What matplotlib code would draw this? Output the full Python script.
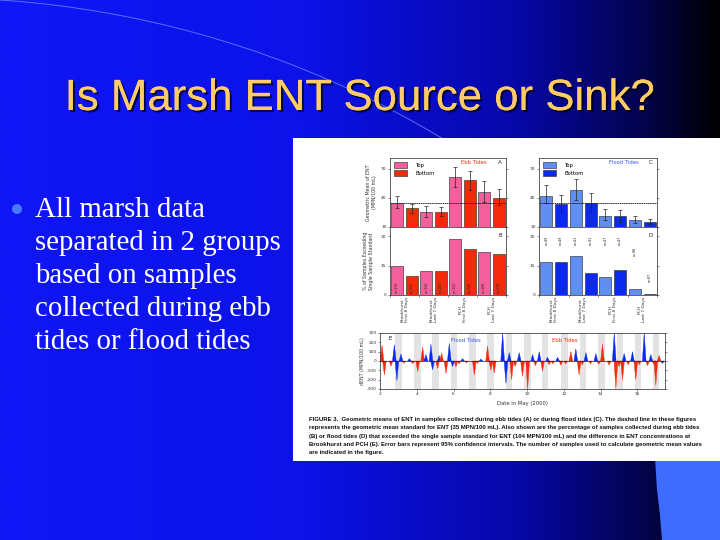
import matplotlib
matplotlib.use("Agg")
import matplotlib.pyplot as plt
import numpy as np
from matplotlib.colors import LinearSegmentedColormap
from matplotlib.patches import Rectangle, Circle, Polygon
import matplotlib.patheffects as pe

plt.rcParams["axes.unicode_minus"] = False

# ---- slide text ----
title = "Is Marsh ENT Source or Sink?"
bullet_lines = ["All marsh data", "separated in 2 groups", "based on samples",
                "collected during ebb", "tides or flood tides"]

# ---- panel A-D data ----
groups = ["Brookhurst\nFirst 8 Days", "Brookhurst\nLast 7 Days",
          "PCH\nFirst 8 Days", "PCH\nLast 7 Days"]

ebb_top_mean = [35, 25.9, 61.5, 46.5]
ebb_top_lo = [29.5, 20.7, 51.5, 36]
ebb_top_hi = [42, 31.5, 71.5, 57.5]
ebb_bot_mean = [29.3, 25.5, 58, 39.5]
ebb_bot_lo = [24, 21, 48, 32.5]
ebb_bot_hi = [33.5, 31, 68, 49]

flood_top_mean = [42, 48.3, 21.7, 17.2]
flood_top_lo = [35, 38, 17.2, 13.8]
flood_top_hi = [53.4, 59.3, 28.3, 21.4]
flood_bot_mean = [33.5, 35, 21.4, 15.5]
flood_bot_lo = [25.9, 25.9, 15.5, 13.1]
flood_bot_hi = [42.8, 44.8, 27.6, 18.3]

ebb_top_pct = [15, 12.3, 28.6, 21.7]
ebb_bot_pct = [9.7, 12, 23.6, 20.7]
flood_top_pct = [16.9, 19.8, 9.1, 3.1]
flood_bot_pct = [16.9, 11, 12.7, 0.3]

ebb_n = ["n=119", "n=111", "n=124", "n=109", "n=122", "n=106", "n=108", "n=110"]
flood_n = ["n=49", "n=49", "n=41", "n=41", "n=47", "n=47", "n=98", "n=87"]
flood_n_y = [28, 28, 28, 28, 28, 28, 22, 9]

geo_std = 35

# ---- panel E data: dENT spikes (day in May, value, tide) ----
spike_day = [2.11, 2.24, 2.6, 2.78, 2.92, 3.14, 3.3, 3.6, 3.78, 4.05, 4.32, 4.5,
             4.77, 4.86, 5.13, 5.22, 5.35, 5.59, 5.77, 5.95, 6.13, 6.3, 6.49, 6.7,
             7.13, 7.3, 7.49, 7.85, 8.03, 8.21, 8.67, 8.85, 9.03, 9.16, 9.35, 9.57,
             9.75, 10.03, 10.3, 10.45, 10.66, 10.84, 11.11, 11.2, 11.4, 11.66, 11.84,
             12.1, 12.38, 12.65, 12.83, 13.0, 13.2, 13.45, 13.74, 13.9, 14.1, 14.46,
             14.74, 14.83, 15.0, 15.19, 15.28, 15.5, 15.73, 15.91, 16.1, 16.37,
             16.55, 16.73, 16.9, 17.0, 17.18, 17.36]
spike_val = [170, -150, -55, 175, -210, 75, -25, 25, -30, -115, 150, 70,
             180, -95, -80, 60, 85, -135, 190, -60, -65, -30, 25, -20,
             -150, -25, 20, 160, -100, -130, 300, -240, 90, -200, -60, 90,
             -165, -300, 70, -50, 100, -110, 40, -40, -30, 40, -45,
             -30, 100, 130, -150, -40, 90, -30, 80, -35, 180, -45,
             300, -300, -60, -200, 80, -40, 100, -200, -40, 300,
             -50, 70, -40, -260, 60, -25]
spike_tide = ["ebb", "ebb", "ebb", "flood", "flood", "flood", "ebb", "flood", "ebb", "ebb", "ebb", "flood",
              "flood", "flood", "ebb", "flood", "ebb", "ebb", "flood", "flood", "ebb", "ebb", "flood", "ebb",
              "ebb", "ebb", "flood", "ebb", "ebb", "ebb", "flood", "flood", "flood", "ebb", "ebb", "flood",
              "ebb", "ebb", "flood", "ebb", "flood", "ebb", "flood", "ebb", "ebb", "flood", "ebb",
              "ebb", "ebb", "flood", "ebb", "ebb", "flood", "ebb", "flood", "ebb", "ebb", "ebb",
              "flood", "ebb", "ebb", "ebb", "flood", "ebb", "flood", "ebb", "ebb", "flood",
              "ebb", "flood", "ebb", "ebb", "ebb", "flood"]
band_start = [2.84, 3.85, 4.84, 5.84, 6.84, 7.84, 8.84, 9.83, 10.8, 11.86,
              12.85, 13.85, 14.87, 15.85, 16.84]

caption = [
    "FIGURE 3.  Geometric means of ENT in samples collected during ebb tides (A) or during flood tides (C). The dashed line in these figures",
    "represents the geometric mean standard for ENT (35 MPN/100 mL). Also shown are the percentage of samples collected during ebb tides",
    "(B) or flood tides (D) that exceeded the single sample standard for ENT (104 MPN/100 mL) and the difference in ENT concentrations at",
    "Brookhurst and PCH (E). Error bars represent 95% confidence intervals. The number of samples used to calculate geometric mean values",
    "are indicated in the figure.",
]

# colours
pink = "#f5609c"
red = "#f52a0a"
lblue = "#5f8ff0"
dblue = "#0a2af0"

W, H = 720, 540
fig = plt.figure(figsize=(7.2, 5.4), dpi=100)


def px(l, t, r, b):
    return [l / W, 1 - b / H, (r - l) / W, (b - t) / H]


# ---- background slide ----
bg = fig.add_axes([0, 0, 1, 1])
bg.set_xlim(0, W)
bg.set_ylim(H, 0)
bg.axis("off")
cmap = LinearSegmentedColormap.from_list(
    "slide", [(0, "#1016f5"), (0.42, "#0c12e8"), (0.72, "#0707a8"), (0.9, "#03034a"), (1.0, "#000000")])
bg.imshow(np.linspace(0, 1, 256)[None, :], cmap=cmap, extent=[0, W, H, 0], aspect="auto", zorder=0)
bg.add_patch(Circle((-65.6, 985.6), 987.8, fill=False, ec="#6a86ff", lw=0.7, alpha=0.8, zorder=1))
bg.add_patch(Polygon([(655, 458), (657, 490), (660, 515), (662, 540), (720, 540), (720, 458)],
                     closed=True, fc="#3d6cff", ec="none", zorder=1))
bg.add_patch(Rectangle((293, 138), 427, 323, fc="white", ec="none", zorder=2))

bg.text(360, 110, title, ha="center", va="baseline", fontsize=31.5, color="#ffcc66",
        family="Liberation Sans", zorder=3,
        path_effects=[pe.withSimplePatchShadow(offset=(1.5, -1.5), shadow_rgbFace="black", alpha=0.7),
                      pe.Normal()])
bg.add_patch(Circle((17, 209), 5, fc="#4a78ff", ec="none", zorder=3))
for i, line in enumerate(bullet_lines):
    bg.text(35, 217 + 33 * i, line, ha="left", va="baseline", fontsize=20.8,
            color="white", family="Liberation Serif", zorder=3)

# ---- figure panels ----
tick_fs = 3.2


def style(ax):
    for s in ax.spines.values():
        s.set_linewidth(0.5)
        s.set_color("#222222")
    ax.tick_params(axis="y", which="both", direction="out", length=1.5, width=0.4,
                   labelsize=tick_fs, pad=1, right=True, colors="#333333")
    ax.tick_params(axis="x", which="both", direction="out", length=1.5, width=0.4,
                   labelsize=tick_fs, pad=1, colors="#333333")


def interleave(a, b):
    out = []
    for x, y in zip(a, b):
        out += [x, y]
    return out


xpos = np.arange(8)
panels = [
    ("A", "B", px(390, 158, 506, 227), px(390, 227, 506, 295),
     ebb_top_mean, ebb_top_lo, ebb_top_hi, ebb_bot_mean, ebb_bot_lo, ebb_bot_hi,
     ebb_top_pct, ebb_bot_pct, pink, red, "Ebb Tides", red, True),
    ("C", "D", px(539, 158, 657, 227), px(539, 227, 657, 295),
     flood_top_mean, flood_top_lo, flood_top_hi, flood_bot_mean, flood_bot_lo, flood_bot_hi,
     flood_top_pct, flood_bot_pct, lblue, dblue, "Flood Tides", "#3355ff", False),
]

for (lab1, lab2, r1, r2, tm, tl, th, bm, bl, bh, tp, bp, c1, c2, tide_txt, tide_col, left) in panels:
    ax1 = fig.add_axes(r1)
    ax2 = fig.add_axes(r2)
    means = interleave(tm, bm)
    lo = interleave(tl, bl)
    hi = interleave(th, bh)
    cols = [c1, c2] * 4
    err = [np.array(means) - np.array(lo), np.array(hi) - np.array(means)]
    bars = ax1.bar(xpos, np.array(means) - 10, bottom=10, width=0.82, color=cols,
                   edgecolor="#222222", linewidth=0.4)
    ax1.errorbar(xpos, means, yerr=err, fmt="none", ecolor="#222222", elinewidth=0.5,
                 capsize=1.2, capthick=0.5)
    ax1.axhline(geo_std, color="#222222", lw=0.6, ls=(0, (2, 0.6)))
    ax1.set_ylim(10, 81)
    ax1.set_yticks([10, 40, 70])
    ax1.set_xlim(-0.5, 7.5)
    ax1.set_xticks([])
    style(ax1)
    ax1.legend([bars[0], bars[1]], ["Top", "Bottom"], loc="upper left", fontsize=3.8,
               frameon=False, handlelength=2.6, handleheight=1.5, borderaxespad=0.3,
               labelspacing=0.3, handletextpad=1.6)
    ax1.text(0.72, 0.93, tide_txt, transform=ax1.transAxes, ha="center", va="center",
             fontsize=3.8, color=tide_col)
    ax1.text(0.95, 0.93, lab1, transform=ax1.transAxes, ha="center", va="center",
             fontsize=4, color="#222222")

    pct = interleave(tp, bp)
    ax2.bar(xpos, pct, width=0.82, color=cols, edgecolor="#222222", linewidth=0.4)
    ax2.set_ylim(0, 34.6)
    ax2.set_yticks([0, 15, 30])
    ax2.set_xlim(-0.5, 7.5)
    ax2.set_xticks([-0.5, 1.5, 3.5, 5.5, 7.5])
    ax2.set_xticklabels([])
    ax2.set_xticks([0.5, 2.5, 4.5, 6.5], minor=True)
    ax2.set_xticklabels(groups, minor=True, rotation=90, fontsize=2.8, va="top", ha="center",
                        linespacing=1.1)
    style(ax2)
    ax2.tick_params(axis="x", which="minor", length=0, pad=1.5)
    ax2.text(0.95, 0.87, lab2, transform=ax2.transAxes, ha="center", va="center",
             fontsize=4, color="#222222")
    if left:
        for x, n in zip(xpos, ebb_n):
            ax2.text(x, 1.2, n, rotation=90, ha="center", va="bottom", fontsize=2.4, color="#222222")
        ax1.set_ylabel("Geometric Mean of ENT\n(MPN/100 mL)", fontsize=3.4, labelpad=3,
                       linespacing=1.2, color="#333333")
        ax2.set_ylabel("% of Samples Exceeding\nSingle Sample Standard", fontsize=3.4,
                       labelpad=5, linespacing=1.2, color="#333333")
    else:
        for x, n, yy in zip(xpos, flood_n, flood_n_y):
            ax2.text(x, yy, n, rotation=90, ha="center", va="center", fontsize=2.4, color="#222222")

# ---- panel E ----
axE = fig.add_axes(px(380, 333, 665, 389))
for b in band_start:
    axE.axvspan(b, b + 0.36, color="#e3e3e3", lw=0, zorder=0)
hw = 0.1
for d, v, t in zip(spike_day, spike_val, spike_tide):
    col = red if t == "ebb" else dblue
    axE.fill([d - hw, d, d + hw], [0, v, 0], color=col, lw=0.3, zorder=2)
axE.axhline(0, color="#222222", lw=0.5, zorder=3)
axE.set_xlim(2, 17.5)
axE.set_ylim(-300, 300)
axE.set_yticks([-300, -200, -100, 0, 100, 200, 300])
axE.set_xticks([2, 4, 6, 8, 10, 12, 14, 16])
style(axE)
axE.set_ylabel("dENT (MPN/100 mL)", fontsize=3.4, labelpad=1.5, color="#333333")
axE.set_xlabel("Date in May (2000)", fontsize=3.8, labelpad=3, color="#333333")
axE.text(0.035, 0.9, "E", transform=axE.transAxes, ha="center", va="center", fontsize=4)
axE.text(0.3, 0.87, "Flood Tides", transform=axE.transAxes, ha="center", va="center",
         fontsize=3.8, color="#3355ff")
axE.text(0.65, 0.87, "Ebb Tides", transform=axE.transAxes, ha="center", va="center",
         fontsize=3.8, color=red)

for i, line in enumerate(caption):
    bg.text(309, 421 + 8.3 * i, line, ha="left", va="baseline", fontsize=4.3,
            fontweight="bold", family="Liberation Sans", color="#111111", zorder=3)

fig.savefig("out.png", dpi=100)
